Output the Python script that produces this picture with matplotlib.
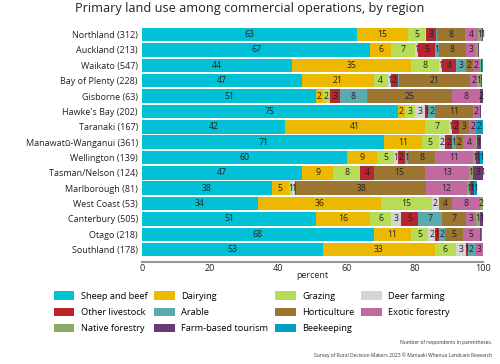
import matplotlib
matplotlib.use("Agg")
import matplotlib.pyplot as plt
import numpy as np
from matplotlib.patches import Patch

plt.rcParams['font.family'] = ['Open Sans', 'DejaVu Sans']

regions = ["Northland (312)", "Auckland (213)", "Waikato (547)", "Bay of Plenty (228)",
           "Gisborne (63)", "Hawke's Bay (202)", "Taranaki (167)", "Manawatū-Wanganui (361)",
           "Wellington (139)", "Tasman/Nelson (124)", "Marlborough (81)", "West Coast (53)",
           "Canterbury (505)", "Otago (218)", "Southland (178)"]

uses = ["Sheep and beef", "Dairying", "Grazing", "Deer farming", "Other livestock", "Arable",
        "Horticulture", "Exotic forestry", "Native forestry", "Farm-based tourism", "Beekeeping"]

colors = ["#00C1D5", "#EDB800", "#B7DD56", "#D4D4D4", "#B5262F", "#5BAAAE",
          "#9C7530", "#C369A1", "#8FA865", "#6A3A72", "#00A1C2"]

# percent of respondents, one list per land use, regions in the order above
sheep_beef   = [63, 67, 44, 47, 51, 75, 42, 71, 60, 47, 38, 34, 51, 68, 53]
dairying     = [15, 6, 35, 21, 2, 2, 41, 11, 9, 9, 5, 36, 16, 11, 33]
grazing      = [5, 7, 8, 4, 2, 3, 7, 5, 5, 8, 1, 15, 6, 5, 6]
deer         = [0.3, 1, 1, 1, 0, 3, 1, 2, 1, 0, 1, 2, 3, 2, 3]
other_stock  = [3, 5, 4, 2, 3, 1, 2, 2, 2, 4, 0.3, 0, 5, 1, 0.6]
arable       = [0.3, 1, 3, 0.3, 8, 2, 0, 1, 1, 0, 0, 0, 7, 2, 2]
horticulture = [8, 8, 2, 21, 25, 11, 3, 2, 8, 15, 38, 4, 7, 5, 0]
exotic       = [4, 3, 2, 2, 8, 2, 2, 4, 11, 13, 12, 8, 3, 5, 3]
native       = [1, 0.4, 0.3, 1, 0, 0, 0, 0.3, 1, 1, 1, 2, 1, 0, 0]
tourism      = [1, 0.5, 0.3, 0.3, 2, 0.4, 0, 1, 1, 3, 1, 0, 1, 0.4, 0]
beekeeping   = [0.3, 0, 0.4, 0, 0, 0, 2, 0, 1, 1, 1, 0, 0, 0.4, 0]

series = [sheep_beef, dairying, grazing, deer, other_stock, arable,
          horticulture, exotic, native, tourism, beekeeping]

fig = plt.figure(figsize=(5, 3.64), dpi=100)
ax = fig.add_axes([0.284, 0.293, 0.682, 0.633])

y = np.arange(len(regions))
left = np.zeros(len(regions))
for vals, col in zip(series, colors):
    vals = np.array(vals, dtype=float)
    bars = ax.barh(y, vals, left=left, height=0.88, color=col, edgecolor='none')
    labels = [str(max(1, int(round(v)))) if v >= 0.55 else "" for v in vals]
    ax.bar_label(bars, labels=labels, label_type='center', fontsize=6.3, color='#222222', padding=0)
    left += vals

ax.set_yticks(y)
ax.set_yticklabels(regions, fontsize=6.5, color='#222222')
ax.invert_yaxis()
ax.set_ylim(len(regions) - 0.5, -0.5)
ax.set_xlim(0, 100)
ax.set_xticks([0, 20, 40, 60, 80, 100])
ax.tick_params(axis='both', length=0, labelsize=6.5, colors='#222222')
ax.tick_params(axis='y', pad=3)
ax.tick_params(axis='x', pad=1.5)
ax.set_xlabel("percent", fontsize=6.5, color='#222222', labelpad=-1)
for s in ['top', 'right', 'left']:
    ax.spines[s].set_visible(False)
ax.spines['bottom'].set_color('#999999')
ax.spines['bottom'].set_linewidth(1.5)
ax.spines['bottom'].set_position(('outward', 3))

fig.suptitle("Primary land use among commercial operations, by region",
             fontsize=9.2, x=0.5, y=0.995, color='#222222')

# legend, filled column by column so it reads row-wise like the original
order = [0, 4, 8, 1, 5, 9, 2, 6, 10, 3, 7]
handles = [Patch(facecolor=colors[i], label=uses[i]) for i in order]
fig.legend(handles=handles, ncol=4, loc='upper left', bbox_to_anchor=(0.098, 0.212),
           frameon=False, fontsize=6.7, handlelength=2.2, handleheight=1.0,
           columnspacing=0.75, handletextpad=0.7, labelspacing=0.75, borderpad=0)

fig.text(0.985, 0.055, "Number of respondents in parentheses.", ha='right', fontsize=3.6, color='#333333')
fig.text(0.985, 0.02, "Survey of Rural Decision Makers 2023 © Manaaki Whenua Landcare Research",
         ha='right', fontsize=3.6, color='#333333')

fig.savefig("out.png", dpi=100)
